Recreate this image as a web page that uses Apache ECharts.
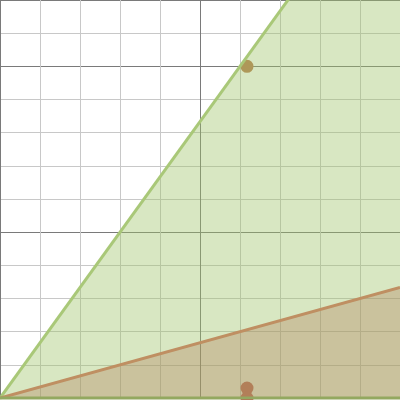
<!DOCTYPE html>
<html><head><meta charset="utf-8">
<script src="https://cdn.jsdelivr.net/npm/echarts@6/dist/echarts.min.js"></script>
<style>html,body{margin:0;background:#fff}#main{width:400px;height:400px}</style>
</head><body><div id="main"></div>
<script>
// line endpoints (x, y) in graph units
const greenLine = [[0, 0], [10, 50 / 3]];
const brownLine = [[0, 0], [10, 10 / 3]];
const brownPoints = [[6.175, 10]];
const redPoints = [[6.175, 0.3], [6.175, 0]];

const minorAxis = (max) => ({
  type: 'value', min: 0, max: max, interval: 1,
  axisLabel: { show: false }, axisTick: { show: false }, axisLine: { show: false },
  splitLine: { lineStyle: { color: '#c8c8c8', width: 1 } }
});
const majorAxis = (max) => ({
  type: 'value', min: 0, max: max, interval: 5,
  axisLabel: { show: false }, axisTick: { show: false }, axisLine: { show: false },
  splitLine: { lineStyle: { color: '#7a7a7a', width: 1 } }
});

const chart = echarts.init(document.getElementById('main'));
chart.setOption({
  animation: false,
  grid: { left: 0, right: 0, top: 0, bottom: 2 },
  xAxis: [minorAxis(10), majorAxis(10)],
  yAxis: [minorAxis(12), majorAxis(12)],
  series: [
    { type: 'line', data: greenLine, symbol: 'none', clip: true,
      lineStyle: { color: '#a9c878', width: 3 },
      areaStyle: { color: 'rgba(160,196,106,0.58)', origin: 'start' } },
    { type: 'line', data: brownLine, symbol: 'none', clip: true,
      lineStyle: { color: '#bf8f62', width: 3 },
      areaStyle: { color: 'rgba(176,128,90,0.5)', origin: 'start' } },
    { type: 'line', data: [[0, 0], [10, 0]], symbol: 'none', clip: false,
      lineStyle: { color: '#93a860', width: 3 } },
    { type: 'scatter', data: brownPoints, symbolSize: 13, clip: false,
      itemStyle: { color: '#b97a4e', opacity: 1 } },
    { type: 'scatter', data: redPoints, symbolSize: 13, clip: false,
      itemStyle: { color: '#c0504d', opacity: 1 } }
  ]
});
</script></body></html>
